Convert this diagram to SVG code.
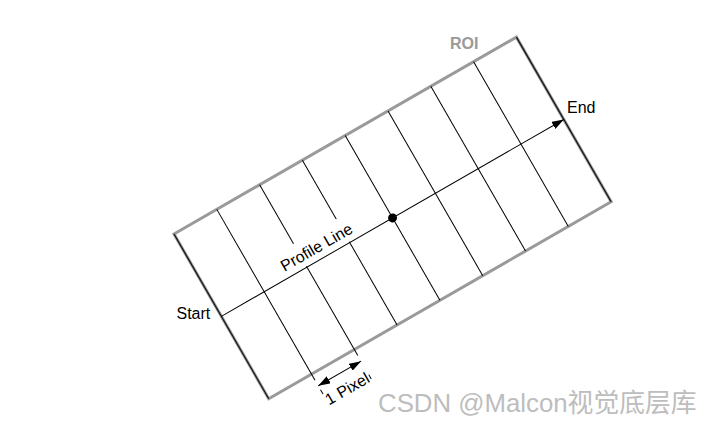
<svg xmlns="http://www.w3.org/2000/svg" width="712" height="424" viewBox="0 0 712 424">
  <style>
    .edge { fill: none; stroke: #9a9a9a; stroke-width: 3; }
    .side { stroke: #111; stroke-width: 1.2; }
    .grid { stroke: #000; stroke-width: 1; }
    .lbl { font-family: "Liberation Sans", Arial, sans-serif; font-size: 16px; fill: #000; }
    .roi { font-family: "Liberation Sans", Arial, sans-serif; font-size: 16px; font-weight: bold; fill: #999; }
    .wm { font-family: "Liberation Sans", Arial, "Noto Sans CJK SC", sans-serif; font-size: 25.8px; fill: #bdbdbd; }
  </style>
  <defs>
    <marker id="ah" markerUnits="userSpaceOnUse" markerWidth="12" markerHeight="8" refX="12" refY="4" orient="auto-start-reverse">
      <path d="M0,0 L12,4 L0,8 z" fill="#000"/>
    </marker>
  </defs>
  <rect width="712" height="424" fill="#fff"/>
  <g transform="translate(174,234) rotate(-29.9)">
    <g id="roi">
      <rect class="edge" x="0" y="0" width="395" height="190"/>
      <line class="side" x1="0" y1="0" x2="0" y2="190"/>
      <line class="side" x1="395" y1="0" x2="395" y2="190"/>
      <line class="grid" x1="49.4" y1="0" x2="49.4" y2="197"/>
      <line class="grid" x1="98.75" y1="0" x2="98.75" y2="197"/>
      <line class="grid" x1="148.1" y1="0" x2="148.1" y2="190"/>
      <line class="grid" x1="197.5" y1="0" x2="197.5" y2="190"/>
      <line class="grid" x1="246.9" y1="0" x2="246.9" y2="190"/>
      <line class="grid" x1="296.25" y1="0" x2="296.25" y2="190"/>
      <line class="grid" x1="345.6" y1="0" x2="345.6" y2="190"/>
      <line class="grid" x1="49.4" y1="208" x2="49.4" y2="213"/>
      <line class="grid" x1="98.75" y1="219" x2="98.75" y2="224"/>
    </g>
    <g id="connectors">
      <line id="profile-line" class="grid" x1="0" y1="95" x2="395" y2="95" marker-end="url(#ah)"/>
      <circle id="center" cx="197.5" cy="95" r="4.5" fill="#000"/>
      <line id="pixel-dim" class="grid" x1="49.4" y1="203.5" x2="98.75" y2="203.5" marker-start="url(#ah)" marker-end="url(#ah)"/>
    </g>
    <g id="profile-label">
      <rect x="74" y="68" width="86" height="26" fill="#fff"/>
      <text class="lbl" x="117" y="88" text-anchor="middle">Profile Line</text>
    </g>
    <g id="pixel-label">
      <text class="lbl" x="73" y="226" text-anchor="middle">1 Pixel</text>
    </g>
  </g>
  <g id="roi-label"><text class="roi" x="450" y="49">ROI</text></g>
  <g id="start-label"><text class="lbl" x="176.5" y="318.5">Start</text></g>
  <g id="end-label"><text class="lbl" x="567" y="113">End</text></g>
  <g id="watermark"><text class="wm" x="378" y="412">CSDN @Malcon视觉底层库</text></g>
</svg>
